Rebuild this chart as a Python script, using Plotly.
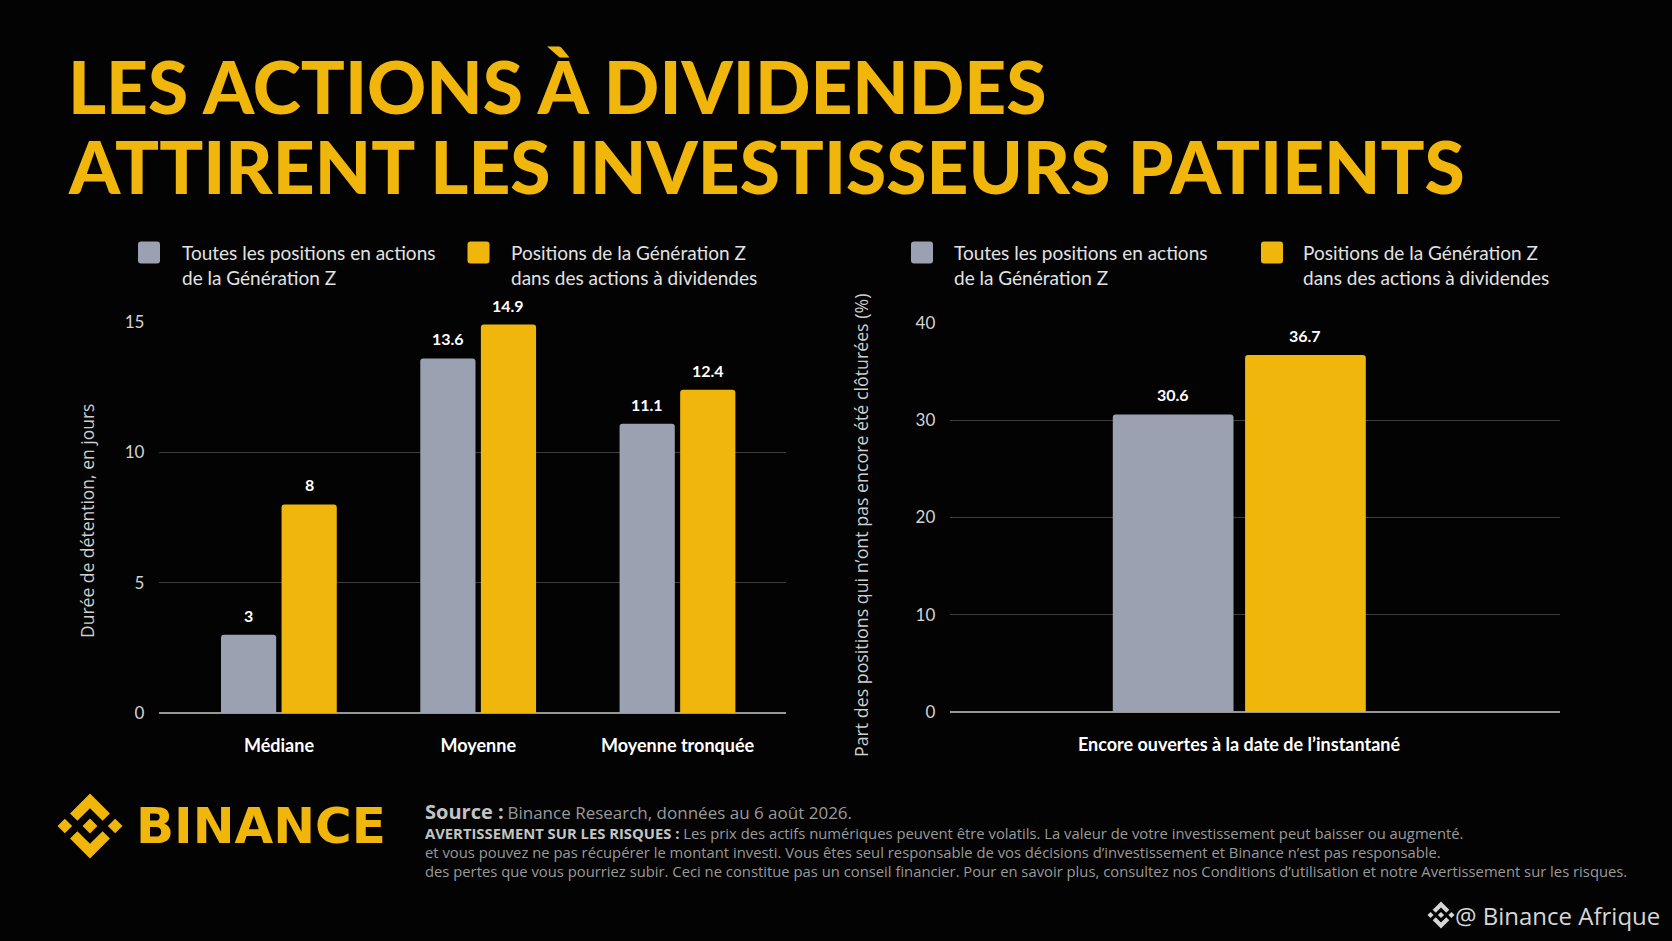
import plotly.graph_objects as go

W, H = 1672, 941

# ---- data ----
series_names = ["Toutes les positions en actions<br>de la Génération Z",
                "Positions de la Génération Z<br>dans des actions à dividendes"]
left_categories = ["Médiane", "Moyenne", "Moyenne tronquée"]
left_all_gen_z = [3, 13.6, 11.1]
left_dividends = [8, 14.9, 12.4]
left_ticks = [0, 5, 10, 15]

right_categories = ["Encore ouvertes à la date de l’instantané"]
right_all_gen_z = [30.6]
right_dividends = [36.7]
right_ticks = [0, 10, 20, 30, 40]

GRAY = "#9CA1B2"
YELLOW = "#F0B60B"
BG = "#030303"


def fx(px):
    return px / W


def fy(py):
    return 1 - py / H


def bar(x, y, color, width, offset, xa, ya):
    return go.Bar(
        x=x, y=y, marker=dict(color=color, line_width=0),
        width=width, offset=offset,
        xaxis=xa, yaxis=ya, showlegend=False, hoverinfo="x+y",
    )


def value_labels(x, y, width, offset, px_per_unit, xa, ya):
    # label above each bar, anchored on the bar value
    shift = (offset + width / 2) * px_per_unit
    return [dict(text=f"{v:g}", x=c, y=v, xref=xa, yref=ya, xshift=shift, yshift=8,
                 xanchor="center", yanchor="bottom", showarrow=False,
                 font=dict(family="Lato", size=16, color="white", weight="bold"))
            for c, v in zip(x, y)]


# bar geometry (category units)
LW, LG, LY = 0.277, -0.291, 0.013
RW, RG, RY = 0.198, -0.207, 0.010
L_PX = (785.6 - 159.4) / 3.142
R_PX = (1560 - 950.3) / 1.0

fig = go.Figure()
fig.add_trace(bar(left_categories, left_all_gen_z, GRAY, LW, LG, "x", "y"))
fig.add_trace(bar(left_categories, left_dividends, YELLOW, LW, LY, "x", "y"))
fig.add_trace(bar(right_categories, right_all_gen_z, GRAY, RW, RG, "x2", "y2"))
fig.add_trace(bar(right_categories, right_dividends, YELLOW, RW, RY, "x2", "y2"))

xax = dict(showgrid=False, zeroline=False, showline=False, ticks="", automargin=False,
           tickfont=dict(family="Lato", size=18, color="white", weight="bold"),
           ticklabelstandoff=20, fixedrange=True)
yax = dict(showgrid=True, gridcolor="#3c3c3c", gridwidth=1, automargin=False,
           zeroline=True, zerolinecolor="#979797", zerolinewidth=1.5,
           showline=False, ticks="",
           tickfont=dict(family="Lato", size=17, color="#d4d4d4"),
           ticklabelstandoff=14, fixedrange=True)

fig.update_layout(
    width=W, height=H, autosize=False,
    margin=dict(l=0, r=0, t=0, b=0, pad=0),
    paper_bgcolor=BG, plot_bgcolor=BG,
    barmode="overlay", barcornerradius=3, showlegend=False,
    xaxis=dict(xax, domain=[fx(159.4), fx(785.6)], range=[-0.6, 2.542], anchor="y"),
    yaxis=dict(yax, domain=[fy(713), fy(322)], range=[0, 15], tickvals=left_ticks, anchor="x"),
    xaxis2=dict(xax, domain=[fx(950.3), fx(1560)], range=[-0.4735, 0.5265], anchor="y2"),
    yaxis2=dict(yax, domain=[fy(712), fy(323)], range=[0, 40], tickvals=right_ticks, anchor="x2"),
)

ann = []
shapes = []

ann += value_labels(left_categories, left_all_gen_z, LW, LG, L_PX, "x", "y")
ann += value_labels(left_categories, left_dividends, LW, LY, L_PX, "x", "y")
ann += value_labels(right_categories, right_all_gen_z, RW, RG, R_PX, "x2", "y2")
ann += value_labels(right_categories, right_dividends, RW, RY, R_PX, "x2", "y2")

# title
for text, yc in [("LES ACTIONS À DIVIDENDES", 86), ("ATTIRENT LES INVESTISSEURS PATIENTS", 165.7)]:
    ann.append(dict(text=text, x=fx(66), y=fy(yc), xref="paper", yref="paper",
                    xanchor="left", yanchor="middle", showarrow=False,
                    font=dict(family="Lato", size=73, color=YELLOW, weight=900)))

# y axis titles
ann.append(dict(text="Durée de détention, en jours", x=fx(87), y=fy(521), textangle=-90,
                xref="paper", yref="paper", xanchor="center", yanchor="middle", showarrow=False,
                font=dict(family="Open Sans", size=17.5, color="#cfcfcf")))
ann.append(dict(text="Part des positions qui n’ont pas encore été clôturées (%)", x=fx(861), y=fy(526),
                textangle=-90, xref="paper", yref="paper", xanchor="center", yanchor="middle",
                showarrow=False, font=dict(family="Open Sans", size=17.8, color="#cfcfcf")))


def rounded_square(cx, cy, size, r, color):
    h = size / 2
    path = (f"M {-h + r},{-h} L {h - r},{-h} Q {h},{-h} {h},{-h + r} L {h},{h - r} "
            f"Q {h},{h} {h - r},{h} L {-h + r},{h} Q {-h},{h} {-h},{h - r} "
            f"L {-h},{-h + r} Q {-h},{-h} {-h + r},{-h} Z")
    return dict(type="path", xref="paper", yref="paper", xsizemode="pixel", ysizemode="pixel",
                xanchor=fx(cx), yanchor=fy(cy), path=path, fillcolor=color, line_width=0)


# manual legends (one per chart)
legend_items = [(149, 180, GRAY, series_names[0]), (478.5, 509, YELLOW, series_names[1]),
                (922, 951.5, GRAY, series_names[0]), (1272, 1301, YELLOW, series_names[1])]
for sq_x, txt_x, color, name in legend_items:
    shapes.append(rounded_square(sq_x, 252.5, 22, 3, color))
    ann.append(dict(text=name, x=fx(txt_x), y=fy(264.5), xref="paper", yref="paper",
                    xanchor="left", yanchor="middle", align="left", showarrow=False,
                    font=dict(family="Lato", size=19, color="#e2e2e2")))

# Binance logo (points from the official mark, 126.61 units wide)
logo_parts = [
    [(38.73, 53.2), (63.3, 28.63), (87.89, 53.22), (102.19, 38.92), (63.3, 0), (24.43, 38.88)],
    [(0, 63.31), (14.3, 49.0), (28.6, 63.3), (14.3, 77.61)],
    [(38.73, 73.41), (63.3, 98.0), (87.89, 73.41), (102.19, 87.7), (63.3, 126.61), (24.42, 87.74)],
    [(98.01, 63.31), (112.31, 49.01), (126.61, 63.31), (112.31, 77.61)],
    [(77.83, 63.3), (63.3, 48.76), (48.77, 63.28), (63.3, 77.8)],
]


def logo(cx, cy, size, color):
    s = size / 126.61
    out = []
    for part in logo_parts:
        pts = [((x - 63.3) * s, -(y - 63.3) * s) for x, y in part]
        path = "M " + " L ".join(f"{a:.2f},{b:.2f}" for a, b in pts) + " Z"
        out.append(dict(type="path", xref="paper", yref="paper", xsizemode="pixel",
                        ysizemode="pixel", xanchor=fx(cx), yanchor=fy(cy), path=path,
                        fillcolor=color, line_width=0))
    return out


shapes += logo(90, 826, 65, YELLOW)
shapes += logo(1441, 915, 27, "#d6d6d6")

ann.append(dict(text="BINANCE", x=fx(134), y=fy(826), xref="paper", yref="paper",
                xanchor="left", yanchor="middle", showarrow=False,
                font=dict(family="DejaVu Sans", size=50, color=YELLOW, weight="bold")))

# footer
footer_lines = [
    ("<b><span style='color:#c4c4c4;font-size:20px'>Source :</span></b> "
     "<span style='font-size:17px'>Binance Research, données au 6 août 2026.</span>", 811),
    ("<b><span style='color:#c4c4c4'>AVERTISSEMENT SUR LES RISQUES :</span></b> Les prix des actifs numériques "
     "peuvent être volatils. La valeur de votre investissement peut baisser ou augmenté.", 833),
    ("et vous pouvez ne pas récupérer le montant investi. Vous êtes seul responsable de vos décisions "
     "d’investissement et Binance n’est pas responsable.", 852),
    ("des pertes que vous pourriez subir. Ceci ne constitue pas un conseil financier. Pour en savoir plus, "
     "consultez nos Conditions d’utilisation et notre Avertissement sur les risques.", 871),
]
for text, yc in footer_lines:
    ann.append(dict(text=text, x=fx(423), y=fy(yc), xref="paper", yref="paper",
                    xanchor="left", yanchor="middle", align="left", showarrow=False,
                    font=dict(family="Open Sans", size=14.8, color="#9a9a9a")))

ann.append(dict(text="@ Binance Afrique", x=fx(1662), y=fy(915), xref="paper", yref="paper",
                xanchor="right", yanchor="middle", showarrow=False,
                font=dict(family="Open Sans", size=24, color="#d6d6d6")))

fig.update_layout(annotations=ann, shapes=shapes)
fig.write_html("out.html", config={"displayModeBar": False},
               post_script="document.body.style.margin='0';document.body.style.background='#030303';")
